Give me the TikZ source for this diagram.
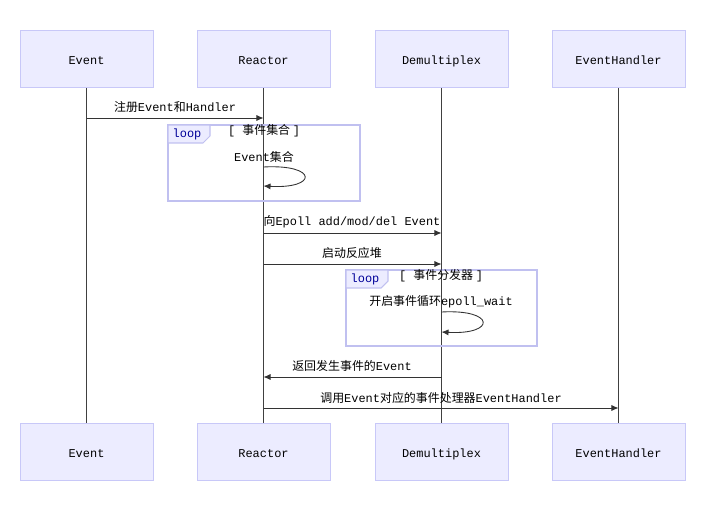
\documentclass[tikz,border=0pt]{standalone}
\usepackage{fontspec}
\setmainfont{Liberation Mono}
\newfontfamily\cjk{Noto Sans CJK SC}
\usetikzlibrary{arrows.meta,positioning}
\definecolor{actfill}{HTML}{ECECFF}
\definecolor{actline}{HTML}{C8C8F8}
\definecolor{loopline}{HTML}{C0C0F0}
\tikzset{
  actor/.style={draw=actline, fill=actfill, minimum width=133*0.02cm, minimum height=57*0.02cm, text height=1.6ex, text depth=0.4ex, font=\fontsize{6.8}{8}\selectfont},
  msg/.style={-{Latex[length=4pt,width=3.5pt]}, black!80, line width=0.5pt},
  lbl/.style={font=\fontsize{6.8}{8}\selectfont, inner sep=1pt},
  loopbox/.style={draw=loopline, line width=0.6pt},
}
\begin{document}
\begin{tikzpicture}[x=0.02cm, y=-0.02cm]
\useasboundingbox (0,0) rectangle (706,513);

% actors
\foreach \n/\x/\t in {ev/86.5/Event, re/263.5/Reactor, de/441.5/Demultiplex, eh/618.5/EventHandler} {
  \draw[black!75, line width=0.5pt] (\x,87) -- (\x,423);
  \node[actor] (\n top) at (\x,58.5) {\t};
  \node[actor] (\n bot) at (\x,451.5) {\t};
}

% messages
\coordinate (m1a) at (86.5,118);  \coordinate (m1b) at (263.5,118);
\draw[msg] (m1a) -- (m1b);
\node[lbl] (l1) at (175,107) {\cjk 注册\rmfamily Event\cjk 和\rmfamily Handler};

% loop 1
\draw[loopbox] (168,125) rectangle (360,201);
\draw[loopbox, fill=actfill] (168,125) -- (210,125) -- (210,136) -- (203,143) -- (168,143) -- cycle;
\node[lbl, text=blue!60!black] (lp1) at (187,134) {loop};
\node[lbl] (g1) at (264,131) {[ \cjk 事件集合 \rmfamily ]};
\node[lbl] (l2) at (264,157) {Event\cjk 集合};
\coordinate (s1a) at (263.5,167); \coordinate (s1b) at (263.5,186);
\draw[msg] (s1a) .. controls (318,164) and (318,189) .. (s1b);

\coordinate (m3a) at (263.5,233); \coordinate (m3b) at (441.5,233);
\draw[msg] (m3a) -- (m3b);
\node[lbl] (l3) at (352,222) {\cjk 向\rmfamily Epoll add/mod/del Event};

\coordinate (m4a) at (263.5,264); \coordinate (m4b) at (441.5,264);
\draw[msg] (m4a) -- (m4b);
\node[lbl] (l4) at (352,253) {\cjk 启动反应堆};

% loop 2
\draw[loopbox] (346,270) rectangle (537,346);
\draw[loopbox, fill=actfill] (346,270) -- (388,270) -- (388,281) -- (381,288) -- (346,288) -- cycle;
\node[lbl, text=blue!60!black] (lp2) at (365,279) {loop};
\node[lbl] (g2) at (441,276) {[ \cjk 事件分发器 \rmfamily ]};
\node[lbl] (l5) at (441,302) {\cjk 开启事件循环\rmfamily epoll\_wait};
\coordinate (s2a) at (441.5,312); \coordinate (s2b) at (441.5,332);
\draw[msg] (s2a) .. controls (496,309) and (496,335) .. (s2b);

\coordinate (m6a) at (441.5,377); \coordinate (m6b) at (263.5,377);
\draw[msg] (m6a) -- (m6b);
\node[lbl] (l6) at (352,366) {\cjk 返回发生事件的\rmfamily Event};

\coordinate (m7a) at (263.5,408); \coordinate (m7b) at (618.5,408);
\draw[msg] (m7a) -- (m7b);
\node[lbl] (l7) at (441,398) {\cjk 调用\rmfamily Event\cjk 对应的事件处理器\rmfamily EventHandler};
\end{tikzpicture}
\end{document}
